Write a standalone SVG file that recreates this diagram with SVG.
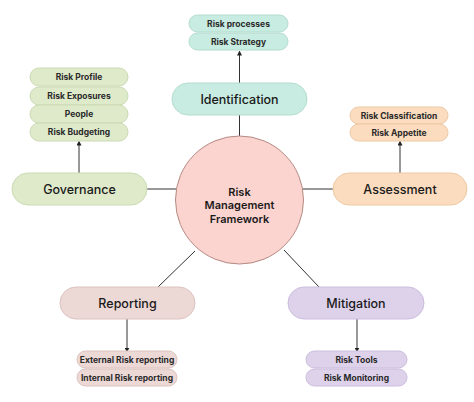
<svg xmlns="http://www.w3.org/2000/svg" width="474" height="402" viewBox="0 0 474 402">
<defs>
<marker id="ah" viewBox="0 0 6 6" refX="3" refY="3" markerWidth="5" markerHeight="5" orient="auto">
<path d="M0,0 L6,3 L0,6 z" fill="#222"/>
</marker>
<style>
.main{font-family:Inter,"Liberation Sans",sans-serif;font-size:12.5px;font-weight:500;fill:#1a1a1a;text-anchor:middle;dominant-baseline:central}
.sub{font-family:Inter,"Liberation Sans",sans-serif;font-size:8.5px;font-weight:700;fill:#2a2a2a;text-anchor:middle;dominant-baseline:central}
.ctr{font-family:Inter,"Liberation Sans",sans-serif;font-size:11px;font-weight:600;fill:#1a1a1a;text-anchor:middle;dominant-baseline:central}
.ln{stroke:#333;stroke-width:1;fill:none}
.teal{fill:#c8ece1;stroke:#b4dccf;stroke-width:1}
.green{fill:#dfeacb;stroke:#cbdab3;stroke-width:1}
.peach{fill:#fbdcbe;stroke:#ecc9a6;stroke-width:1}
.pink{fill:#ecd8d5;stroke:#dcc3bf;stroke-width:1}
.lav{fill:#ded2eb;stroke:#cbbddd;stroke-width:1}
</style>
</defs>
<g id="connectors">
<line class="ln" x1="239.5" y1="136" x2="239.5" y2="115"/>
<line class="ln" x1="239.5" y1="83" x2="239.5" y2="53" marker-end="url(#ah)"/>
<line class="ln" x1="147" y1="189" x2="176" y2="189"/>
<line class="ln" x1="79" y1="173" x2="79" y2="143" marker-end="url(#ah)"/>
<line class="ln" x1="303" y1="189" x2="333" y2="189"/>
<line class="ln" x1="400" y1="173" x2="400" y2="143" marker-end="url(#ah)"/>
<line class="ln" x1="158" y1="287" x2="195" y2="251"/>
<line class="ln" x1="127" y1="319" x2="127" y2="350" marker-end="url(#ah)"/>
<line class="ln" x1="319" y1="287" x2="284" y2="250"/>
<line class="ln" x1="357" y1="319" x2="357" y2="350" marker-end="url(#ah)"/>
</g>
<g id="center">
<circle cx="239.5" cy="200" r="64" fill="#fbd4cf" stroke="#b58a84" stroke-width="1"/>
<text class="ctr" x="239.5" y="191.5">Risk</text>
<text class="ctr" x="239.5" y="205">Management</text>
<text class="ctr" x="239.5" y="218.5">Framework</text>
</g>
<g id="identification">
<rect class="teal" x="172" y="83" width="135" height="32" rx="16"/>
<text class="main" x="239.5" y="99">Identification</text>
</g>
<g id="identification-items">
<rect class="teal" x="189" y="15" width="99" height="17" rx="8.5"/>
<text class="sub" x="238.5" y="23.5">Risk processes</text>
<rect class="teal" x="189" y="33" width="99" height="17" rx="8.5"/>
<text class="sub" x="238.5" y="41.5">Risk Strategy</text>
</g>
<g id="governance">
<rect class="green" x="12" y="173" width="135" height="32" rx="16"/>
<text class="main" x="79.5" y="189">Governance</text>
</g>
<g id="governance-items">
<rect class="green" x="30" y="68" width="98" height="18" rx="9"/>
<text class="sub" x="79" y="77">Risk Profile</text>
<rect class="green" x="30" y="87" width="98" height="18" rx="9"/>
<text class="sub" x="79" y="96">Risk Exposures</text>
<rect class="green" x="30" y="105" width="98" height="18" rx="9"/>
<text class="sub" x="79" y="114">People</text>
<rect class="green" x="30" y="123" width="98" height="18" rx="9"/>
<text class="sub" x="79" y="132">Risk Budgeting</text>
</g>
<g id="assessment">
<rect class="peach" x="333" y="173" width="134" height="32" rx="16"/>
<text class="main" x="400" y="189">Assessment</text>
</g>
<g id="assessment-items">
<rect class="peach" x="350" y="107" width="98" height="17" rx="8.5"/>
<text class="sub" x="399" y="115.5">Risk Classification</text>
<rect class="peach" x="350" y="124" width="98" height="17" rx="8.5"/>
<text class="sub" x="399" y="132.5">Risk Appetite</text>
</g>
<g id="reporting">
<rect class="pink" x="60" y="287" width="135" height="32" rx="16"/>
<text class="main" x="127.5" y="303">Reporting</text>
</g>
<g id="reporting-items">
<rect class="pink" x="77" y="351" width="100" height="17" rx="8.5"/>
<text class="sub" x="127" y="359.5">External Risk reporting</text>
<rect class="pink" x="77" y="369" width="100" height="17" rx="8.5"/>
<text class="sub" x="127" y="377.5">Internal Risk reporting</text>
</g>
<g id="mitigation">
<rect class="lav" x="288" y="287" width="136" height="32" rx="16"/>
<text class="main" x="356" y="303">Mitigation</text>
</g>
<g id="mitigation-items">
<rect class="lav" x="306" y="351" width="101" height="17" rx="8.5"/>
<text class="sub" x="356.5" y="359.5">Risk Tools</text>
<rect class="lav" x="306" y="369" width="101" height="17" rx="8.5"/>
<text class="sub" x="356.5" y="377.5">Risk Monitoring</text>
</g>
</svg>
